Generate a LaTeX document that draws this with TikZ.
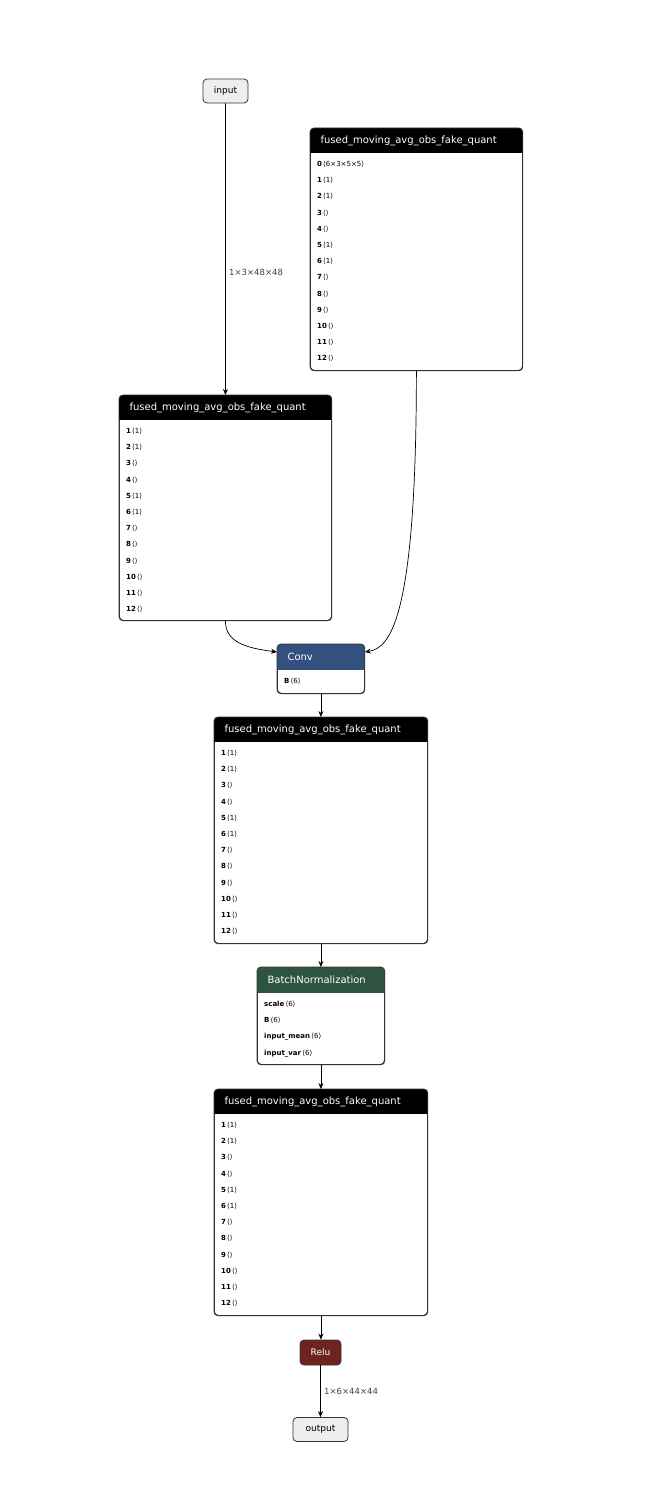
\documentclass[tikz,border=0pt]{standalone}
\usepackage{fontspec}
\setmainfont{DejaVu Sans}
\usetikzlibrary{arrows.meta,calc}

\definecolor{convblue}{HTML}{33507F}
\definecolor{bngreen}{HTML}{2E5341}
\definecolor{relured}{HTML}{6E241E}
\definecolor{termfill}{HTML}{EEEEEE}

\tikzset{
  boxline/.style={draw=black!80,line width=0.8pt,rounded corners=4pt},
  term/.style={boxline,fill=termfill,inner sep=0pt,minimum height=24pt,font=\fontsize{9}{10}\selectfont},
  rowtext/.style={inner sep=0pt,align=left,font=\fontsize{7}{16.2}\selectfont},
  heading/.style={text=white,font=\fontsize{10}{11}\selectfont},
  arr/.style={-{Stealth[length=6pt,width=5pt]},line width=0.7pt},
  shape label/.style={font=\fontsize{8.5}{10}\selectfont,text=black!75}
}

% name, left, top, width, height, header height, colour, title, rows
\newcommand\opbox[9]{%
  \node[boxline,anchor=north west,minimum width=#4pt,minimum height=#5pt,inner sep=0pt] (#1) at (#2,-#3) {};
  \begin{scope}
    \clip[rounded corners=4pt] (#1.north west) rectangle (#1.south east);
    \fill[#7] (#1.north west) rectangle ($(#1.north east)+(0,-#6)$);
  \end{scope}
  \draw[boxline] (#1.north west) rectangle (#1.south east);
  \node[heading,anchor=west] at ($(#1.north west)+(7,-#6/2)$) {#8};
  \node[rowtext,anchor=north west] at ($(#1.north west)+(7,-#6-8)$) {#9};
}
\newcommand\rw[2]{\textbf{#1}\,⟨#2⟩}
\newcommand\qrows{\rw{1}{1}\\ \rw{2}{1}\\ \rw{3}{}\\ \rw{4}{}\\ \rw{5}{1}\\ \rw{6}{1}\\ \rw{7}{}\\ \rw{8}{}\\ \rw{9}{}\\ \rw{10}{}\\ \rw{11}{}\\ \rw{12}{}}

\begin{document}
\begin{tikzpicture}[x=1pt,y=1pt]
\useasboundingbox (0,0) rectangle (663,-1506);

\node[term,minimum width=45pt] (input) at (225.5,-91) {input};
\opbox{q0}{310}{128}{212}{242}{25}{black}{fused\_moving\_avg\_obs\_fake\_quant}{\rw{0}{6×3×5×5}\\ \rw{1}{1}\\ \rw{2}{1}\\ \rw{3}{}\\ \rw{4}{}\\ \rw{5}{1}\\ \rw{6}{1}\\ \rw{7}{}\\ \rw{8}{}\\ \rw{9}{}\\ \rw{10}{}\\ \rw{11}{}\\ \rw{12}{}}
\opbox{q1}{119}{395}{212}{225}{25}{black}{fused\_moving\_avg\_obs\_fake\_quant}{\qrows}
\opbox{conv}{277}{644}{87}{49}{26}{convblue}{Conv}{\rw{B}{6}}
\opbox{q2}{214}{717}{213}{226}{25}{black}{fused\_moving\_avg\_obs\_fake\_quant}{\qrows}
\opbox{bn}{257}{967}{127}{97}{26}{bngreen}{BatchNormalization}{\rw{scale}{6}\\ \rw{B}{6}\\ \rw{input\_mean}{6}\\ \rw{input\_var}{6}}
\opbox{q3}{214}{1089}{213}{226}{25}{black}{fused\_moving\_avg\_obs\_fake\_quant}{\qrows}
\node[boxline,fill=relured,text=white,inner sep=0pt,minimum width=41pt,minimum height=25pt,font=\fontsize{9}{10}\selectfont] (relu) at (320.5,-1352.5) {Relu};
\node[term,minimum width=55pt] (output) at (320.5,-1429.5) {output};

% edges
\draw[arr] (input) -- node[shape label,right,pos=0.58] {1×3×48×48} (q1);
\draw[arr] (q1.south) .. controls +(0,-22) and +(-30,4) .. ($(conv.north west)+(0,-8)$);
\draw[arr] (q0.south) .. controls +(0,-250) and +(25,4) .. ($(conv.north east)+(0,-8)$);
\draw[arr] (conv.south -| q2.north) -- (q2.north);
\draw[arr] (q2.south) -- (q2.south |- bn.north);
\draw[arr] (bn.south -| q3.north) -- (q3.north);
\draw[arr] (q3.south) -- (q3.south |- relu.north);
\draw[arr] (relu) -- node[shape label,right] {1×6×44×44} (output);
\end{tikzpicture}
\end{document}
